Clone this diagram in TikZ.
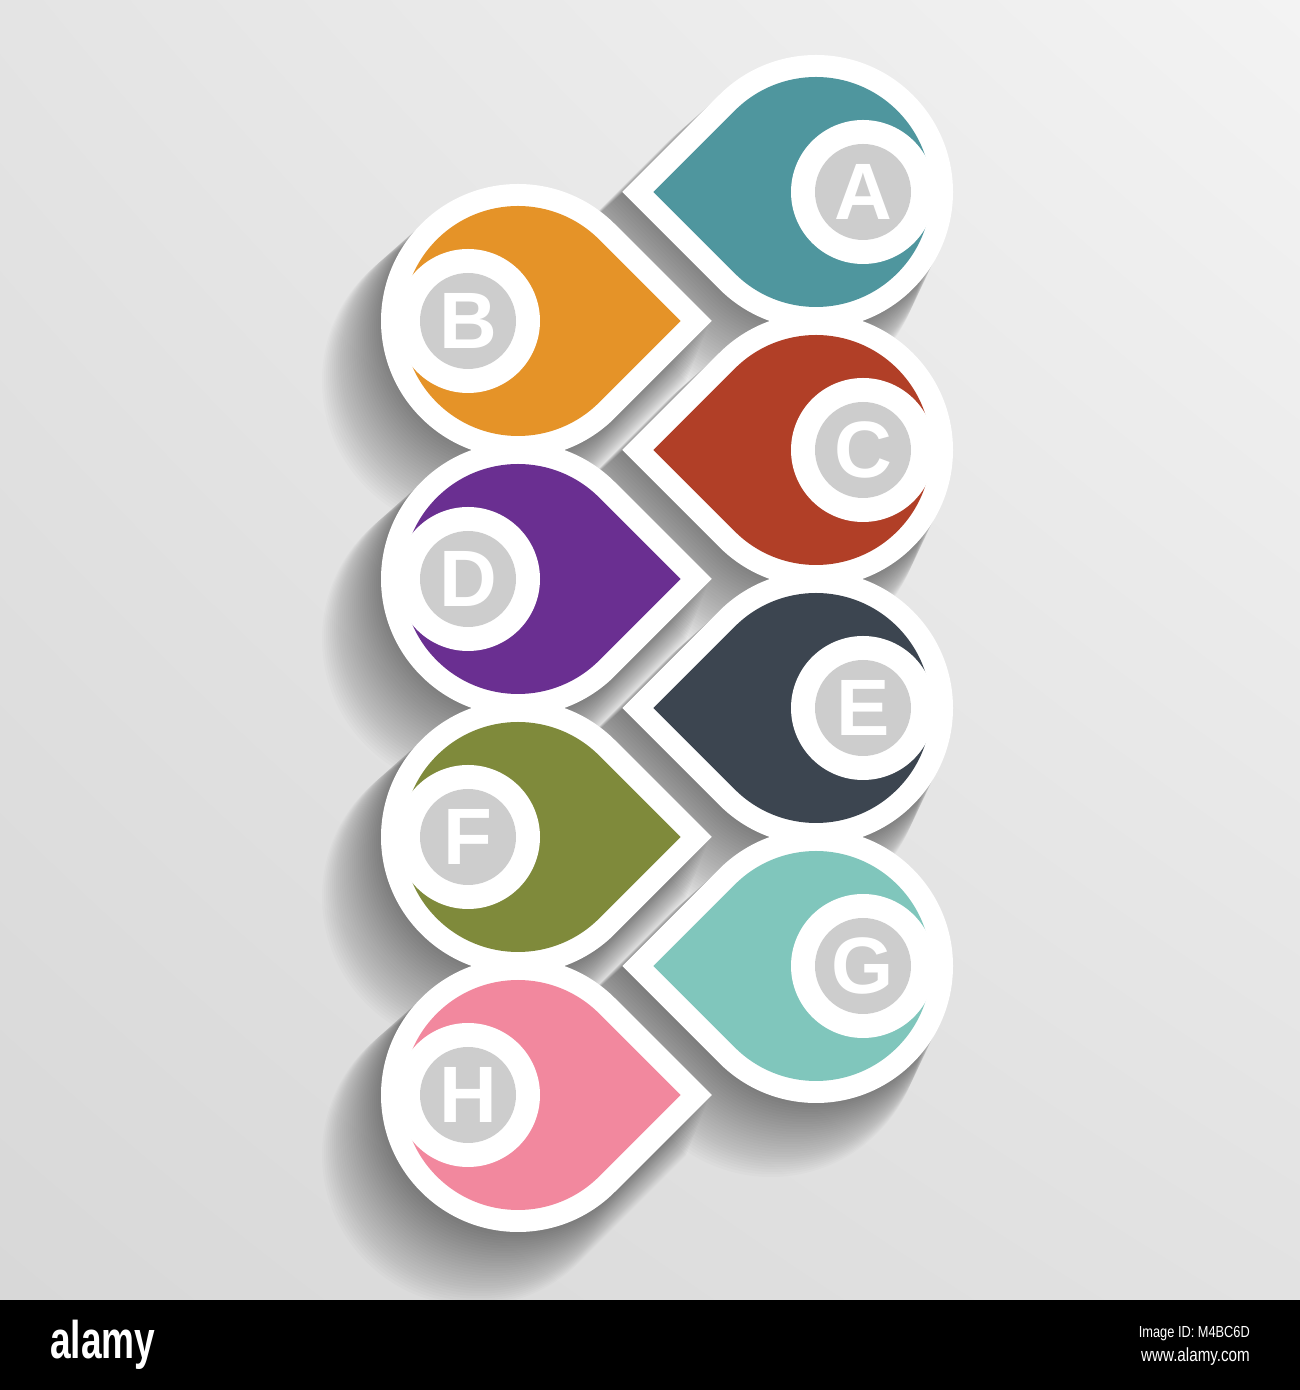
\documentclass[tikz,border=0pt]{standalone}
\usepackage{fontspec}
\setmainfont{Liberation Sans}
\usetikzlibrary{shadings}
\definecolor{cA}{HTML}{4F969E}
\definecolor{cB}{HTML}{E59328}
\definecolor{cC}{HTML}{B13F27}
\definecolor{cD}{HTML}{6A2F91}
\definecolor{cE}{HTML}{3C4550}
\definecolor{cF}{HTML}{7F8A3B}
\definecolor{cG}{HTML}{80C6BC}
\definecolor{cH}{HTML}{F2889E}
\definecolor{gcirc}{HTML}{CDCDCD}
\definecolor{bgUL}{HTML}{E4E4E4}
\definecolor{bgUR}{HTML}{F3F3F3}
\definecolor{bgLL}{HTML}{D8D8D8}
\definecolor{bgLR}{HTML}{E2E2E2}
% teardrop: centre (#1,#2), radius #3, direction #4 (1 = tip right, -1 = tip left)
\newcommand\dropshape[4]{({#1+#3*cos(90-45*#4)},{#2+#3*sin(90-45*#4)}) arc[start angle={90-45*#4},end angle={90+225*#4},radius=#3pt] -- ({#1+1.41421*#3*#4},#2) -- cycle}
\def\items{816/1198/863/-1/cA/A,518/1069/468/1/cB/B,816/940/863/-1/cC/C,518/811/468/1/cD/D,816/682/863/-1/cE/E,518/553/468/1/cF/F,816/424/863/-1/cG/G,518/295/468/1/cH/H}
\tikzset{
  letter/.style={text=white,font=\bfseries\fontsize{80}{80}\selectfont,inner sep=0pt},
  shadowlayer/.style={fill=black,opacity=0.016},
  barText/.style={text=white,inner sep=0pt}
}
\begin{document}
\begin{tikzpicture}[x=1pt,y=1pt]
\useasboundingbox (0,0) rectangle (1300,1390);
% background
\shade[upper left=bgUL,upper right=bgUR,lower left=bgLL,lower right=bgLR] (0,90) rectangle (1300,1390);
% soft long shadows
\foreach \cx/\cy/\lx/\s/\c/\l in \items {
  \foreach \k in {1,...,30} {
    \pgfmathsetmacro\rr{136+0.5*\k}
    \fill[shadowlayer,shift={({-1.5*\k},{-2.0*\k})}] \dropshape{\cx}{\cy}{\rr}{\s};
  }
}
% white outlines
\foreach \cx/\cy/\lx/\s/\c/\l in \items {
  \fill[white] \dropshape{\cx}{\cy}{137}{\s};
}
% coloured drops
\foreach \cx/\cy/\lx/\s/\c/\l in \items {
  \fill[\c] \dropshape{\cx}{\cy}{115}{\s};
}
% letter discs
\foreach \cx/\cy/\lx/\s/\c/\l in \items {
  \fill[white] (\lx,\cy) circle[radius=72pt];
  \fill[gcirc] (\lx,\cy) circle[radius=48pt];
  \node[letter] (n\l) at (\lx,\cy) {\l};
}
% bottom bar
\fill[black] (0,0) rectangle (1300,90);
\node[barText,anchor=base west,font=\bfseries\fontsize{53}{53}\selectfont,xscale=0.7] (logo) at (50,31) {alamy};
\node[barText,anchor=base east,font=\fontsize{16}{16}\selectfont,xscale=0.8] (imgid) at (1250,52) {Image ID: M4BC6D};
\node[barText,anchor=base east,font=\fontsize{19}{19}\selectfont,xscale=0.8] (www) at (1250,28) {www.alamy.com};
\end{tikzpicture}
\end{document}
